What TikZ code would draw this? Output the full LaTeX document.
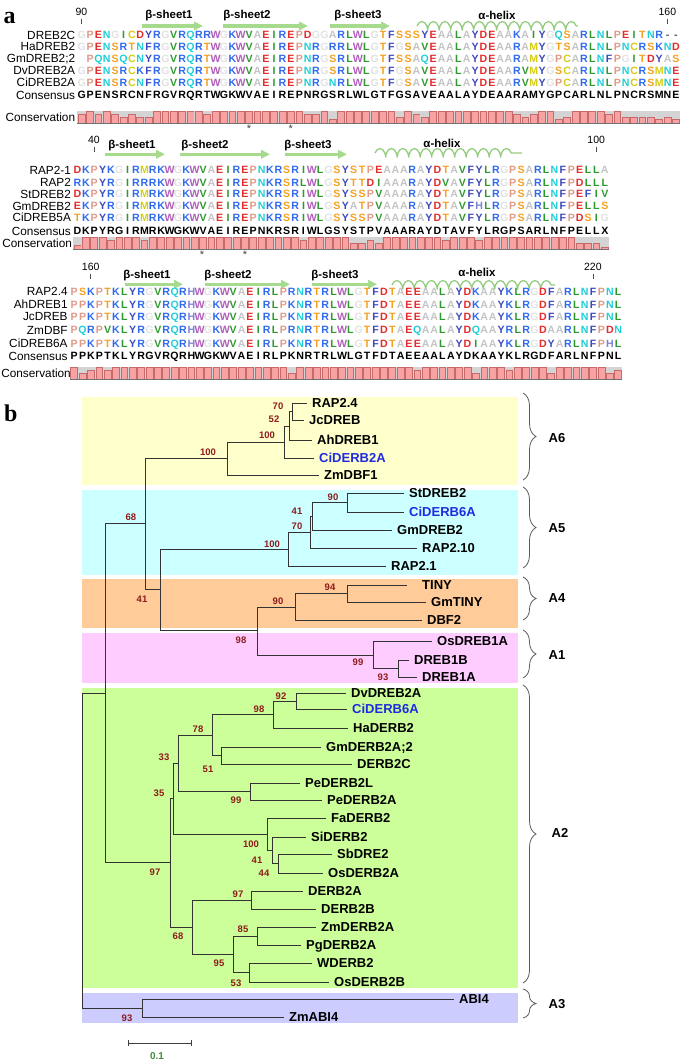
\documentclass[tikz,border=0pt]{standalone}
\usepackage{fontspec}
\setmainfont{Liberation Sans}
\newfontfamily\panelfont{Liberation Serif}
\usetikzlibrary{positioning,arrows.meta,decorations.pathreplacing,decorations.pathmorphing}

% Farben der Aminosaeuren (RasMol)
\definecolor{aaA}{HTML}{C4C4C4}\definecolor{aaG}{HTML}{E2E2E2}
\definecolor{aaR}{HTML}{2F6AF0}\definecolor{aaK}{HTML}{2F6AF0}
\definecolor{aaD}{HTML}{E52B2B}\definecolor{aaE}{HTML}{E52B2B}
\definecolor{aaC}{HTML}{D6CC10}\definecolor{aaM}{HTML}{D6CC10}
\definecolor{aaS}{HTML}{F5A020}\definecolor{aaT}{HTML}{F5A020}
\definecolor{aaF}{HTML}{3C48BC}\definecolor{aaY}{HTML}{3C48BC}
\definecolor{aaN}{HTML}{1CCFD8}\definecolor{aaQ}{HTML}{1CCFD8}
\definecolor{aaL}{HTML}{2E9A2E}\definecolor{aaV}{HTML}{2E9A2E}
\definecolor{aaI}{HTML}{2E9A2E}\definecolor{aaW}{HTML}{B060B8}
\definecolor{aaH}{HTML}{7F82D8}\definecolor{aaP}{HTML}{E09A88}
\definecolor{aaX}{HTML}{000000}\definecolor{aagap}{HTML}{555555}
\definecolor{sheetg}{HTML}{A6DB8E}
\definecolor{helixg}{HTML}{96CC80}
\definecolor{conspink}{HTML}{F7A3A3}
\definecolor{consedge}{HTML}{C86A6A}
\definecolor{bootred}{HTML}{8E1B1B}
\definecolor{cladeyel}{HTML}{FFFFCC}
\definecolor{cladecya}{HTML}{CCFFFF}
\definecolor{cladeora}{HTML}{FFCC99}
\definecolor{cladepin}{HTML}{FFCCFF}
\definecolor{cladegre}{HTML}{CCFF99}
\definecolor{cladepur}{HTML}{CCCCFF}
\definecolor{newgene}{HTML}{1F2BE0}
\definecolor{scaleg}{HTML}{3F8A3F}

% Sequenzzeilen
\newlength\colw \setlength\colw{8.37pt}
\newcommand\putres[1]{\makebox[\colw]{\ifx.#1\else\ifx-#1\textcolor{aagap}{-}\else\textcolor{aa#1}{#1}\fi\fi}}
\newcommand\seqloop[1]{\ifx\relax#1\else\putres{#1}\expandafter\seqloop\fi}
\newcommand\seqline[1]{\edef\seqtmp{#1}\expandafter\seqloop\seqtmp\relax}
\newcommand\consline[1]{{\renewcommand\putres[1]{\makebox[\colw]{##1}}\seqline{#1}}}
% Konservierung: x der ersten Spalte, y oben, Werte, Anzahl
\newcommand\consbars[4]{%
  \foreach \h [count=\i] in {#3}{%
    \pgfmathsetmacro\bx{#1+(\i-1)*8.37}%
    \pgfmathsetmacro\bh{{0,2.5,4.5,6.5,9,12.5}[\h]}%
    \fill[consbg] (\bx-4.185,#2) rectangle (\bx+4.185,#2+12.5);
    \filldraw[consbar] (\bx-3.4,#2+12.5) rectangle (\bx+3.4,#2+12.5-\bh);
  }%
  \draw[consbase] (#1-4.185,#2+12.5) -- (#1+#4*8.37-4.185,#2+12.5);
}

\tikzset{
  seq/.style={anchor=west, inner sep=0pt, font=\bfseries\fontsize{10.6}{10.6}\selectfont, text height=7.6pt, text depth=0pt},
  rowlab/.style={inner sep=0pt, font=\fontsize{11.8}{11.8}\selectfont, text height=8.5pt, text depth=0pt},
  posnum/.style={inner sep=0pt, font=\fontsize{10.5}{10.5}\selectfont},
  tickmark/.style={draw=black!70, line width=0.6pt},
  sslab/.style={inner sep=0pt, font=\bfseries\fontsize{11.5}{11.5}\selectfont},
  sheet/.style={draw=sheetg, line width=3.2pt, -{Triangle[length=9pt,width=8.5pt]}},
  helix/.style={draw=helixg, line width=1.3pt, decorate, decoration={coil, aspect=0.45, segment length=11.5pt, amplitude=4.5pt}},
  consbg/.style={fill=black!17},
  consbar/.style={fill=conspink, draw=consedge, line width=0.4pt},
  consbase/.style={draw=black!55, line width=0.6pt},
  starmark/.style={inner sep=0pt, text=black!75, font=\fontsize{11}{11}\selectfont},
  panel/.style={inner sep=0pt, font=\panelfont\bfseries\fontsize{24}{24}\selectfont},
  branch/.style={draw=black!80, line width=0.85pt},
  leaf/.style={anchor=west, inner xsep=5pt, inner ysep=0pt, font=\bfseries\fontsize{13}{13}\selectfont, text height=9.3pt, text depth=0pt},
  newleaf/.style={leaf, text=newgene},
  boot/.style={inner sep=0pt, text=bootred, font=\bfseries\fontsize{9.5}{9.5}\selectfont},
  clbrace/.style={draw=black!65, line width=0.8pt, decorate, decoration={brace, amplitude=13pt}},
  clab/.style={inner sep=0pt, font=\bfseries\fontsize{13}{13}\selectfont},
  scalebar/.style={draw=black!75, line width=0.8pt, {Bar[width=6pt]}-{Bar[width=6pt]}},
  scalelab/.style={inner sep=0pt, text=scaleg, font=\bfseries\fontsize{10}{10}\selectfont}
}

\begin{document}
\begin{tikzpicture}[x=1pt, y=-1pt]
\useasboundingbox (0,0) rectangle (685,1062);

% ---------- a ----------
\node[panel] (pa) at (9.5,18) {a};

% Block 1
\node[posnum] (pa1) at (81.5,11.7) {90};
\node[posnum] (pa2) at (667.4,11.7) {160};
\draw[tickmark] (pa1.south) ++(0,3) -- ++(0,5);
\draw[tickmark] (pa2.south) ++(0,3) -- ++(0,5);
\node[sslab] (ha1) at (169,16) {β-sheet1};
\node[sslab] (ha2) at (247,16) {β-sheet2};
\node[sslab] (ha3) at (358,16) {β-sheet3};
\node[sslab] (ha4) at (497,15) {α-helix};
\draw[sheet] (142,26) -- (203,26);
\draw[sheet] (223,26) -- (308,26);
\draw[sheet] (330,26) -- (390,26);
\draw[helix] (417,26) -- (578,26);
\foreach \lab/\sq/\yy [count=\k] in {
  DREB2C/GPENGICDYRGVRQRRWGKWVAEIREPDGGARLWLGTFSSSYEAALAYDEAAKAIYGQSARLNLPEITNR--/35,
  HaDREB2/GPENSRTNFRGVRQRTWGKWVAEIREPNRGRRLWLGTFGSAVEAALAYDEAARAMYGTSARLNLPNCRSKND/46.7,
  {GmDREB2;2}/.PQNSQCNYRGVRQRTWGKWVAEIREPNRGSRLWLGTFSSAQEAALAYDEAARAMYGPCARLNFPGITDYAS/58.3,
  DvDREB2A/GPENSRCKFRGVRQRTWGKWVAEIREPNRGSRLWLGTFGSAVEAALAYDEAARVMYGSCARLNLPNCRSMNE/70.7,
  CiDREB2A/GPENSRCNFRGVRQRTWGKWVAEIREPNRGNRLWLGTFGSAVEAALAYDEAARVMYGPCARLNLPNCRSMNE/82.3}{
  \node[seq] (sa\k) at (77.3,\yy) {\seqline{\sq}};
  \node[rowlab, left=2pt of sa\k] (la\k) {\lab};
}
\node[seq] (sa6) at (77.3,95) {\consline{GPENSRCNFRGVRQRTWGKWVAEIREPNRGSRLWLGTFGSAVEAALAYDEAARAMYGPCARLNLPNCRSMNE}};
\node[rowlab, left=2pt of sa6] (la6) {Consensus};
\consbars{81.5}{111}{4,5,4,5,4,3,4,3,3,5,5,5,5,5,5,4,5,5,5,5,5,5,5,5,5,5,5,4,4,5,2,5,5,5,5,5,5,5,3,5,4,3,5,5,5,5,5,5,5,5,5,5,4,3,4,5,5,2,3,5,5,5,5,4,5,3,3,3,3,2,3,2}{72}
\coordinate (cva) at (77.3,117.3);
\node[rowlab, left=2pt of cva] (lcva) {Conservation};
\node[starmark] (sta1) at (248.9,129) {*};
\node[starmark] (sta2) at (290.7,129) {*};

% Block 2
\node[posnum] (pb1) at (94,140) {40};
\node[posnum] (pb2) at (596.2,140) {100};
\draw[tickmark] (pb1.south) ++(0,3) -- ++(0,5);
\draw[tickmark] (pb2.south) ++(0,3) -- ++(0,5);
\node[sslab] (hb1) at (132,146) {β-sheet1};
\node[sslab] (hb2) at (205,146) {β-sheet2};
\node[sslab] (hb3) at (308,146) {β-sheet3};
\node[sslab] (hb4) at (442,143.5) {α-helix};
\draw[sheet] (105,154.3) -- (165,154.3);
\draw[sheet] (180,154.3) -- (270,154.3);
\draw[sheet] (285,154.3) -- (347,154.3);
\draw[helix] (375,153) -- (522,153);
\foreach \lab/\sq/\yy [count=\k] in {
  RAP2-1/DKPYKGIRMRKWGKWVAEIREPNKRSRIWLGSYSTPEAAARAYDTAVFYLRGPSARLNFPELLA/170,
  RAP2/RKPYRGIRRRKWGKWVAEIREPNKRSRLWLGSYTTDIAAARAYDVAVFYLRGPSARLNFPDLLL/182.3,
  StDREB2/DKPYRGIRMRKWGKWVAEIREPNKRSRIWLGSYSSPVAAARAYDTAVFYLRGPSARLNFPEFIV/194,
  GmDREB2/EKPYRGIRMRKWGKWVAEIREPNKRSRIWLGSYATPVAAARAYDTAVFHLRGPSARLNFPELLS/206,
  CiDREB5A/TKPYRGIRMRKWGKWVAEIREPNKRSRIWLGSYSSPVAAARAYDTAVFYLRGPSARLNFPDSIG/217.7}{
  \node[seq] (sb\k) at (73.1,\yy) {\seqline{\sq}};
  \node[rowlab, left=2pt of sb\k] (lb\k) {\lab};
}
\node[seq] (sb6) at (73.1,231) {\consline{DKPYRGIRMRKWGKWVAEIREPNKRSRIWLGSYSTPVAAARAYDTAVFYLRGPSARLNFPELLX}};
\node[rowlab, left=2pt of sb6] (lb6) {Consensus};
\consbars{77.3}{237}{2,5,5,5,4,5,5,5,4,5,5,5,5,5,5,5,5,5,5,5,5,5,5,5,5,5,5,4,5,5,5,5,5,3,3,4,3,5,5,5,5,5,5,5,4,5,5,5,4,5,5,5,5,5,5,5,5,5,5,5,3,3,3,1}{64}
\coordinate (cvb) at (73.1,243.3);
\node[rowlab, left=1pt of cvb] (lcvb) {Conservation};
\node[starmark] (stb1) at (202,255) {*};
\node[starmark] (stb2) at (245,255) {*};

% Block 3
\node[posnum] (pc1) at (90.7,266.7) {160};
\node[posnum] (pc2) at (592.9,266.7) {220};
\draw[tickmark] (pc1.south) ++(0,3) -- ++(0,5);
\draw[tickmark] (pc2.south) ++(0,3) -- ++(0,5);
\node[sslab] (hc1) at (147,276) {β-sheet1};
\node[sslab] (hc2) at (228,276) {β-sheet2};
\node[sslab] (hc3) at (335,276) {β-sheet3};
\node[sslab] (hc4) at (477,272.5) {α-helix};
\draw[sheet] (125,284.3) -- (183,284.3);
\draw[sheet] (205,284.3) -- (290,284.3);
\draw[sheet] (312,284.3) -- (377,284.3);
\draw[helix] (392,285) -- (555,285);
\foreach \lab/\sq/\yy [count=\k] in {
  RAP2.4/PSKPTKLYRGVRQRHWGKWVAEIRLPRNRTRLWLGTFDTAEEAALAYDKAAYKLRGDFARLNFPNL/291.7,
  AhDREB1/PPKPTKLYRGVRQRHWGKWVAEIRLPKNRTRLWLGTFDTAEEAALAYDKAAYKLRGDFARLNFPNL/304.3,
  JcDREB/PPKPTKLYRGVRQRHWGKWVAEIRLPKNRTRLWLGTFDTAEEAALAYDKAAYKLRGDFARLNFPNL/316.7,
  ZmDBF/PQRPVKLYRGVRQRHWGKWVAEIRLPRNRTRLWLGTFDTAEQAALAYDQAAYRLRGDAARLNFPDN/330,
  CiDREB6A/PPKPTKLYRGVRQRHWGKWVAEIRLPKNRTRLWLGTFDTAEEAALAYDIAAYKLRGDYARLNFPHL/343.3}{
  \node[seq] (sc\k) at (69.8,\yy) {\seqline{\sq}};
  \node[rowlab, left=2pt of sc\k] (lc\k) {\lab};
}
\node[seq] (sc6) at (69.8,356) {\consline{PPKPTKLYRGVRQRHWGKWVAEIRLPKNRTRLWLGTFDTAEEAALAYDKAAYKLRGDFARLNFPNL}};
\node[rowlab, left=2pt of sc6] (lc6) {Consensus};
\consbars{74}{367}{5,3,4,5,4,5,5,5,5,5,5,5,5,5,5,5,5,5,5,5,5,5,5,5,5,5,3,5,5,5,5,5,5,5,5,5,5,5,5,5,5,4,5,5,5,5,5,5,3,5,5,5,4,5,5,5,5,3,5,5,5,5,5,5,3,4}{66}
\coordinate (cvc) at (71,373.3);
\node[rowlab, left=0pt of cvc] (lcvc) {Conservation};

% ---------- b ----------
\node[panel] (pb) at (10.8,413.3) {b};

% Kladen
\fill[cladeyel] (82,397) rectangle (518,485);
\fill[cladecya] (82,490) rectangle (518,575);
\fill[cladeora] (82,579) rectangle (518,628);
\fill[cladepin] (82,633) rectangle (518,683);
\fill[cladegre] (82,688) rectangle (518,988);
\fill[cladepur] (82,993) rectangle (518,1023);

% Knoten
\foreach \nm/\nx/\ny in {root/82/850.5, n105/105/693, n145/145/523, n100b/227/458.5,
  n100a/284/442, n52/289/426, n70/292/411.5, n160/160/589, n100c/288/549,
  n70a/310/532, n41a/312/516, n90a/347/502.5, n257/257/630, n90b/295/607,
  n94/347/593.5, n99/373/655, n93a/398/668.5, n97/170/862.5, n35/173/798.5,
  n33/178/763, n78/212/735, n98b/273/714.5, n92/296/701, n51/221/755.5,
  n99b/250/791.5, n100d/267/834, n41b/272/850, n44/278/863.5, n68b/192/927,
  n97b/251/900, n95/233/954, n85/257/936, n53/249/972.5, n93b/142/1008}
  \coordinate (\nm) at (\nx,\ny);

% Blaetter
\foreach \nm/\lx/\ly/\tx in {lRAP24/307/403/RAP2.4, lJcDREB/304/420/JcDREB,
  lAhDREB1/312/440/AhDREB1, lZmDBF1/319/475/ZmDBF1, lStDREB2/404/493/StDREB2,
  lGmDREB2/392/530/GmDREB2, lRAP210/417/548/RAP2.10, lRAP21/386/566/RAP2.1,
  lGmTINY/426/602/GmTINY, lDBF2/422/620/DBF2, lOsDREB1A/432/641/OsDREB1A,
  lDREB1B/409/660/DREB1B, lDREB1A/417/677/DREB1A, lDvDREB2A/346/693/DvDREB2A,
  lHaDERB2/348/728/HaDERB2, lGmDERB2A2/321/747/{GmDERB2A;2}, lDERB2C/352/764/DERB2C,
  lPeDERB2L/300/783/PeDERB2L, lPeDERB2A/322/800/PeDERB2A, lFaDERB2/326/818/FaDERB2,
  lSiDERB2/306/837/SiDERB2, lSbDRE2/332/854/SbDRE2, lOsDERB2A/323/873/OsDERB2A,
  lDERB2A/303/891/DERB2A, lDERB2B/316/909/DERB2B, lZmDERB2A/316/927/ZmDERB2A,
  lPgDERB2A/301/945/PgDERB2A, lWDERB2/312/963/WDERB2, lOsDERB2B/329/982/OsDERB2B,
  lABI4/454/999/ABI4, lZmABI4/284/1017/ZmABI4}
  \node[leaf] (\nm) at (\lx,\ly) {\tx};
\node[leaf, inner xsep=15pt] (lTINY) at (407,585) {TINY};
\node[newleaf] (lCiDERB2A) at (314,458) {CiDERB2A};
\node[newleaf] (lCiDERB6a) at (404,512) {CiDERB6A};
\node[newleaf] (lCiDERB6A) at (347,709) {CiDERB6A};

% Kanten
\foreach \p/\c in {root/n105, root/n93b, n105/n145, n105/n97, n145/n100b, n145/n160,
  n100b/n100a, n100b/lZmDBF1, n100a/n52, n100a/lCiDERB2A, n52/n70, n52/lAhDREB1,
  n70/lRAP24, n70/lJcDREB, n160/n100c, n160/n257, n100c/n70a, n100c/lRAP21,
  n70a/n41a, n70a/lRAP210, n41a/n90a, n41a/lGmDREB2, n90a/lStDREB2, n90a/lCiDERB6a,
  n257/n90b, n257/n99, n90b/n94, n90b/lDBF2, n94/lTINY, n94/lGmTINY,
  n99/lOsDREB1A, n99/n93a, n93a/lDREB1B, n93a/lDREB1A,
  n97/n35, n97/n68b, n35/n33, n35/n100d, n33/n78, n33/n99b, n78/n98b, n78/n51,
  n98b/n92, n98b/lHaDERB2, n92/lDvDREB2A, n92/lCiDERB6A, n51/lGmDERB2A2, n51/lDERB2C,
  n99b/lPeDERB2L, n99b/lPeDERB2A, n100d/lFaDERB2, n100d/n41b, n41b/lSiDERB2, n41b/n44,
  n44/lSbDRE2, n44/lOsDERB2A, n68b/n97b, n68b/n95, n97b/lDERB2A, n97b/lDERB2B,
  n95/n85, n95/n53, n85/lZmDERB2A, n85/lPgDERB2A, n53/lWDERB2, n53/lOsDERB2B,
  n93b/lABI4, n93b/lZmABI4}
  \draw[branch] (\p) |- (\c);

% Bootstrap
\foreach \bx/\by/\bv [count=\k] in {278/406/70, 274/419/52, 267/435/100, 208/452/100,
  131/517/68, 333/497/90, 297/511/41, 297/526/70, 272/544/100, 142/599/41,
  330/587/94, 278/601/90, 241/640/98, 358/662/99, 383/677/93,
  281/696/92, 259/709/98, 198/729/78, 164/757/33, 208/769/51, 159/793/35,
  236/800/99, 251/844/100, 257/860/41, 264/873/44, 155/872/97, 238/894/97,
  178/936/68, 243/929/85, 219/963/95, 236/983/53, 127/1018/93}
  \node[boot] (bt\k) at (\bx,\by) {\bv};

% Klammern
\draw[clbrace] (523,393) -- (523,480);
\draw[clbrace] (523,487) -- (523,568);
\draw[clbrace] (523,577) -- (523,620);
\draw[clbrace] (523,630) -- (523,678);
\draw[clbrace] (523,685) -- (523,983);
\draw[clbrace] (523,989) -- (523,1018);
\node[clab] (cA6) at (557,438) {A6};
\node[clab] (cA5) at (557,528) {A5};
\node[clab] (cA4) at (557,598) {A4};
\node[clab] (cA1) at (557,655) {A1};
\node[clab] (cA2) at (560,833) {A2};
\node[clab] (cA3) at (557,1004) {A3};

% Massstab
\coordinate (sbl) at (128,1043);
\coordinate (sbr) at (192,1043);
\draw[scalebar] (sbl) -- (sbr);
\node[scalelab] (sbt) at (157,1056) {0.1};
\end{tikzpicture}
\end{document}
